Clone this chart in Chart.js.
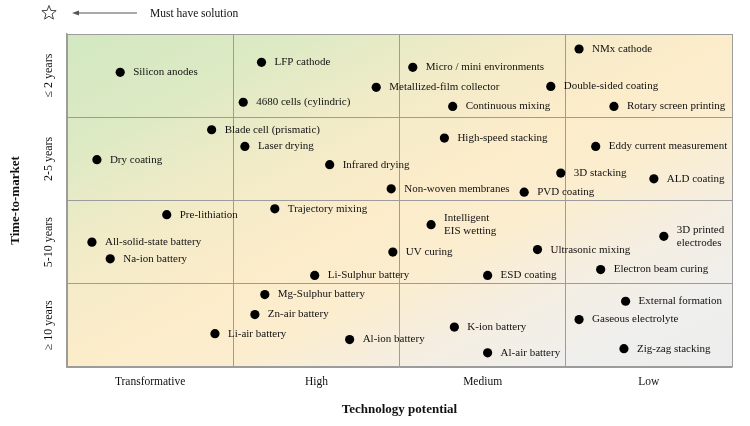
<!DOCTYPE html>
<html>
<head>
<meta charset="utf-8">
<script src="https://cdn.jsdelivr.net/npm/chart.js@4.4.0/dist/chart.umd.min.js"></script>
<style>
  html, body { margin: 0; padding: 0; background: #fff; }
</style>
</head>
<body>
<canvas id="matrixChart" width="750" height="426"></canvas>
<script>
// axis categories (x: left to right, y: bottom to top)
const potentialLabels = ['Transformative', 'High', 'Medium', 'Low'];
const timeLabels = ['\u2265 10 years', '5-10 years', '2-5 years', '\u2264 2 years'];

// technologies, placed in the grid (x = potential cell units, y = time-to-market cell units)
const technologies = [
    'Silicon anodes', 'LFP cathode', '4680 cells (cylindric)', 'Metallized-film collector',
    'Micro / mini environments', 'NMx cathode', 'Double-sided coating', 'Continuous mixing',
    'Rotary screen printing', 'High-speed stacking', 'Eddy current measurement', '3D stacking',
    'ALD coating', 'PVD coating', 'Non-woven membranes', 'Blade cell (prismatic)',
    'Laser drying', 'Infrared drying', 'Dry coating', 'Pre-lithiation',
    'All-solid-state battery', 'Na-ion battery', 'Trajectory mixing', 'UV curing',
    'Li-Sulphur battery', 'Intelligent\nEIS wetting', 'Ultrasonic mixing', 'ESD coating',
    '3D printed\nelectrodes', 'Electron beam curing', 'Mg-Sulphur battery', 'Zn-air battery',
    'Li-air battery', 'Al-ion battery', 'K-ion battery', 'Al-air battery',
    'External formation', 'Gaseous electrolyte', 'Zig-zag stacking'
];
const potential = [
    0.32, 1.17, 1.06, 1.86,
    2.08, 3.08, 2.91, 2.32,
    3.29, 2.27, 3.18, 2.97,
    3.53, 2.75, 1.95, 0.87,
    1.07, 1.58, 0.18, 0.60,
    0.15, 0.26, 1.25, 1.96,
    1.49, 2.19, 2.83, 2.53,
    3.59, 3.21, 1.19, 1.13,
    0.89, 1.70, 2.33, 2.53,
    3.36, 3.08, 3.35
];
const timeToMarket = [
    3.54, 3.66, 3.18, 3.36,
    3.60, 3.82, 3.37, 3.13,
    3.13, 2.75, 2.65, 2.33,
    2.26, 2.10, 2.14, 2.85,
    2.65, 2.43, 2.49, 1.83,
    1.50, 1.30, 1.90, 1.38,
    1.10, 1.71, 1.41, 1.10,
    1.57, 1.17, 0.87, 0.63,
    0.40, 0.33, 0.48, 0.17,
    0.79, 0.57, 0.22
];

const SERIF = "'Liberation Serif', 'Times New Roman', serif";
const GRID = '#9c9c9c';

const backgroundPlugin = {
    id: 'gradientBackground',
    beforeDraw(chart) {
        const { ctx, chartArea: a } = chart;
        const w = a.right - a.left, h = a.bottom - a.top;
        // diagonal gradient in the plot box's own proportions
        ctx.save();
        ctx.translate(a.left, a.top);
        ctx.scale(w, h);
        const g = ctx.createLinearGradient(0, 0, 1, 1);
        g.addColorStop(0, '#d2e8c0');
        g.addColorStop(0.18, '#ddeac4');
        g.addColorStop(0.34, '#f2ebc8');
        g.addColorStop(0.5, '#fcecca');
        g.addColorStop(0.62, '#fbedcf');
        g.addColorStop(0.76, '#f4eee3');
        g.addColorStop(0.88, '#efefed');
        g.addColorStop(1, '#ededed');
        ctx.fillStyle = g;
        ctx.fillRect(0, 0, 1, 1);
        ctx.restore();
    }
};

const pointLabelPlugin = {
    id: 'pointLabels',
    afterDatasetsDraw(chart) {
        const { ctx } = chart;
        const pts = chart.getDatasetMeta(0).data;
        ctx.save();
        ctx.fillStyle = '#111';
        ctx.font = '11px ' + SERIF;
        ctx.textAlign = 'left';
        ctx.textBaseline = 'middle';
        pts.forEach(function (pt, i) {
            const lines = technologies[i].split('\n');
            const lh = 12.7;
            const y0 = pt.y - (lines.length - 1) * lh / 2;
            lines.forEach(function (line, j) {
                ctx.fillText(line, pt.x + 13, y0 + j * lh);
            });
        });
        ctx.restore();
    }
};

const axisTextPlugin = {
    id: 'axisText',
    afterDraw(chart) {
        const { ctx, scales } = chart;
        const a = chart.chartArea;
        ctx.save();
        ctx.fillStyle = '#111';
        ctx.textAlign = 'center';
        ctx.textBaseline = 'middle';

        ctx.font = '11.5px ' + SERIF;
        potentialLabels.forEach(function (lab, i) {
            ctx.fillText(lab, scales.x.getPixelForValue(i + 0.5), 382);
        });
        ctx.font = '12px ' + SERIF;
        timeLabels.forEach(function (lab, i) {
            ctx.save();
            ctx.translate(49, scales.y.getPixelForValue(i + 0.5));
            ctx.rotate(-Math.PI / 2);
            ctx.fillText(lab, 0, 0);
            ctx.restore();
        });

        ctx.font = 'bold 13px ' + SERIF;
        ctx.fillText('Technology potential', (a.left + a.right) / 2, 410);
        ctx.save();
        ctx.translate(16, (a.top + a.bottom) / 2);
        ctx.rotate(-Math.PI / 2);
        ctx.fillText('Time-to-market', 0, 0);
        ctx.restore();

        // legend: star, arrow and note
        const cx = 49, cy = 13, ro = 7.5, ri = 3.2;
        ctx.beginPath();
        for (let k = 0; k < 10; k++) {
            const r = k % 2 === 0 ? ro : ri;
            const ang = -Math.PI / 2 + k * Math.PI / 5;
            const px = cx + r * Math.cos(ang), py = cy + r * Math.sin(ang);
            if (k === 0) ctx.moveTo(px, py); else ctx.lineTo(px, py);
        }
        ctx.closePath();
        ctx.strokeStyle = '#333';
        ctx.lineWidth = 0.9;
        ctx.stroke();

        ctx.beginPath();
        ctx.moveTo(137, 13);
        ctx.lineTo(76, 13);
        ctx.strokeStyle = '#555';
        ctx.lineWidth = 1;
        ctx.stroke();
        ctx.beginPath();
        ctx.moveTo(72, 13);
        ctx.lineTo(79, 10.5);
        ctx.lineTo(79, 15.5);
        ctx.closePath();
        ctx.fillStyle = '#555';
        ctx.fill();

        ctx.fillStyle = '#111';
        ctx.font = '11.5px ' + SERIF;
        ctx.textAlign = 'left';
        ctx.fillText('Must have solution', 150, 14);
        ctx.restore();
    }
};

const ctx = document.getElementById('matrixChart').getContext('2d');
const chart = new Chart(ctx, {
    type: 'scatter',
    data: {
        datasets: [{
            label: 'Technologies',
            data: potential.map(function (x, i) { return { x: x, y: timeToMarket[i] }; }),
            backgroundColor: '#000',
            borderWidth: 0,
            pointRadius: 4.6,
            pointHoverRadius: 4.6
        }]
    },
    options: {
        responsive: false,
        animation: false,
        devicePixelRatio: 1,
        layout: {
            padding: { left: 67, top: 34, right: 18, bottom: 59 }
        },
        plugins: {
            legend: { display: false },
            tooltip: { enabled: false }
        },
        scales: {
            x: {
                type: 'linear',
                min: 0,
                max: 4,
                ticks: { display: false, stepSize: 1 },
                grid: { color: GRID, lineWidth: 1, drawTicks: false },
                border: { color: GRID, width: 1.5 }
            },
            y: {
                type: 'linear',
                min: 0,
                max: 4,
                ticks: { display: false, stepSize: 1 },
                grid: { color: GRID, lineWidth: 1, drawTicks: false },
                border: { color: GRID, width: 1.5 }
            }
        }
    },
    plugins: [backgroundPlugin, pointLabelPlugin, axisTextPlugin]
});
</script>
</body>
</html>
